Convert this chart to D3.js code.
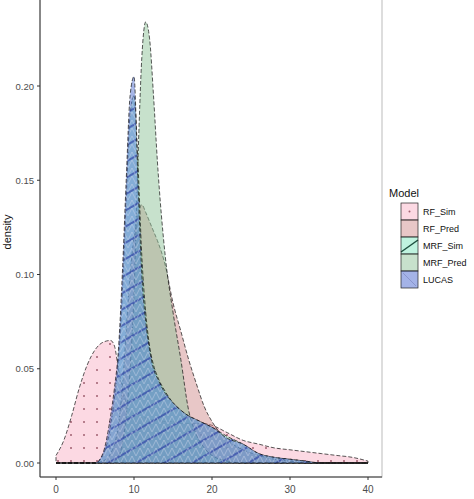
<!DOCTYPE html>
<html><head><meta charset="utf-8">
<script src="https://cdn.jsdelivr.net/npm/d3@7"></script>
<style>body{margin:0;background:#fff}text{font-family:Arial,"Liberation Sans",sans-serif}</style>
</head><body><div id="vis"></div>
<script>
const width = 474, height = 499;
const models = ["RF_Sim", "RF_Pred", "MRF_Sim", "MRF_Pred", "LUCAS"];
const xs = [0,1,2,3,4,5,6,7,7.5,8,8.5,9,9.5,10,10.5,11,11.5,12,12.5,13,14,15,16,17,18,19,20,22,24,26,28,30,32,34,36,38,40];
const rfSim   = [0.004,0.012,0.025,0.04,0.052,0.06,0.064,0.065,0.062,0.05,0.04,0.032,0.028,0.026,0.025,0.024,0.024,0.023,0.023,0.023,0.022,0.022,0.021,0.021,0.021,0.021,0.02,0.016,0.012,0.01,0.008,0.007,0.006,0.005,0.004,0.003,0.001];
const rfPred  = [0,0,0,0,0,0,0.001,0.005,0.01,0.02,0.04,0.07,0.1,0.12,0.132,0.137,0.133,0.128,0.123,0.118,0.105,0.085,0.07,0.055,0.042,0.03,0.022,0.012,0.007,0.004,0.002,0.001,0,0,0,0,0];
const mrfSim  = [0,0,0,0,0,0,0.004,0.02,0.035,0.055,0.09,0.14,0.185,0.195,0.16,0.11,0.08,0.062,0.052,0.046,0.038,0.032,0.028,0.025,0.023,0.021,0.019,0.014,0.01,0.005,0.003,0.002,0.001,0,0,0,0];
const mrfPred = [0,0,0,0,0,0,0,0,0.001,0.003,0.01,0.025,0.05,0.09,0.16,0.215,0.234,0.225,0.195,0.16,0.11,0.08,0.055,0.028,0.015,0.008,0.004,0.001,0,0,0,0,0,0,0,0,0];
const lucas   = [0,0,0,0,0,0,0.005,0.025,0.04,0.06,0.1,0.15,0.195,0.205,0.15,0.1,0.075,0.06,0.05,0.045,0.037,0.032,0.028,0.025,0.023,0.021,0.019,0.013,0.01,0.005,0.003,0.002,0.001,0,0,0,0];
const xTicks = [0, 10, 20, 30, 40];
const yTicks = [0, 0.05, 0.10, 0.15, 0.20];

const series = {RF_Sim: rfSim, RF_Pred: rfPred, MRF_Sim: mrfSim, MRF_Pred: mrfPred, LUCAS: lucas};
const fills = {RF_Sim: "#f9b3c8", RF_Pred: "#d28f8f", MRF_Sim: "#7fe8c0", MRF_Pred: "#8fc49a", LUCAS: "#4a68d0"};
const drawOrder = ["RF_Sim", "RF_Pred", "MRF_Pred", "MRF_Sim", "LUCAS"];

const svg = d3.select("#vis").append("svg").attr("width", width).attr("height", height);

// patterns
const defs = svg.append("defs");
const pDots = defs.append("pattern").attr("id", "p-RF_Sim").attr("patternUnits", "userSpaceOnUse").attr("width", 13).attr("height", 13);
pDots.append("circle").attr("cx", 6).attr("cy", 6).attr("r", 1).attr("fill", "#a06070");
const pLines = defs.append("pattern").attr("id", "p-MRF_Sim").attr("patternUnits", "userSpaceOnUse").attr("width", 14).attr("height", 14).attr("patternTransform", "rotate(-30)");
pLines.append("line").attr("x1", 0).attr("x2", 14).attr("y1", 7).attr("y2", 7).attr("stroke", "#1e2a80").attr("stroke-width", 2).attr("opacity", 0.7);
const pCross = defs.append("pattern").attr("id", "p-LUCAS").attr("patternUnits", "userSpaceOnUse").attr("width", 8).attr("height", 8);
pCross.append("path").attr("d", "M0,8L4,0L8,8").attr("fill", "none").attr("stroke", "#c8d4e8").attr("stroke-width", 0.7).attr("opacity", 0.7);

const x = d3.scaleLinear().domain([0, 40]).range([56, 368]);
const y = d3.scaleLinear().domain([0, 0.2]).range([463, 86]);

// panel border
svg.append("rect").attr("x", 40).attr("y", -1).attr("width", 342).attr("height", 478)
  .attr("fill", "none").attr("stroke", "#bbb");
svg.append("line").attr("x1", 40).attr("x2", 40).attr("y1", 0).attr("y2", 477).attr("stroke", "#333");
svg.append("line").attr("x1", 40).attr("x2", 382).attr("y1", 477).attr("y2", 477).attr("stroke", "#333");

const area = d3.area().x((d, i) => x(xs[i])).y0(y(0)).y1(d => y(d)).curve(d3.curveMonotoneX);

drawOrder.forEach(m => {
  const g = svg.append("g");
  g.append("path").attr("d", area(series[m])).attr("fill", fills[m]).attr("fill-opacity", 0.5);
  if (m === "RF_Sim" || m === "MRF_Sim" || m === "LUCAS")
    g.append("path").attr("d", area(series[m])).attr("fill", `url(#p-${m})`);
  g.append("path").attr("d", area(series[m])).attr("fill", "none")
    .attr("stroke", "#111").attr("stroke-width", 0.7).attr("stroke-dasharray", "4,2");
});

// axes
svg.append("g").selectAll("g").data(yTicks).join("g").each(function(d) {
  const g = d3.select(this);
  g.append("line").attr("x1", 37).attr("x2", 40).attr("y1", y(d)).attr("y2", y(d)).attr("stroke", "#333");
  g.append("text").attr("x", 34).attr("y", y(d) + 3.5).attr("text-anchor", "end")
    .attr("font-size", 9.5).attr("fill", "#4d4d4d").text(d3.format(".2f")(d));
});
svg.append("g").selectAll("g").data(xTicks).join("g").each(function(d) {
  const g = d3.select(this);
  g.append("line").attr("x1", x(d)).attr("x2", x(d)).attr("y1", 477).attr("y2", 480).attr("stroke", "#333");
  g.append("text").attr("x", x(d)).attr("y", 493).attr("text-anchor", "middle")
    .attr("font-size", 10).attr("fill", "#4d4d4d").text(d);
});

svg.append("text").attr("transform", "rotate(-90)").attr("x", -232).attr("y", 11)
  .attr("text-anchor", "middle").attr("font-size", 11).attr("fill", "#111").text("density");

// legend
const lg = svg.append("g").attr("transform", "translate(389,0)");
lg.append("text").attr("x", 0).attr("y", 197).attr("font-size", 11).attr("fill", "#111").text("Model");
models.forEach((m, i) => {
  const yy = 203 + i * 17;
  lg.append("rect").attr("x", 12).attr("y", yy).attr("width", 17).attr("height", 17)
    .attr("fill", fills[m]).attr("fill-opacity", 0.5);
  if (m === "RF_Sim") lg.append("circle").attr("cx", 20.5).attr("cy", yy + 8.5).attr("r", 1).attr("fill", "#a06070");
  if (m === "MRF_Sim") lg.append("line").attr("x1", 12).attr("x2", 29).attr("y1", yy + 15).attr("y2", yy + 3).attr("stroke", "#1e5040").attr("stroke-width", 1.5);
  if (m === "LUCAS") lg.append("line").attr("x1", 14).attr("x2", 27).attr("y1", yy + 2).attr("y2", yy + 15).attr("stroke", "#8088c0").attr("stroke-width", 0.7);
  lg.append("rect").attr("x", 12).attr("y", yy).attr("width", 17).attr("height", 17)
    .attr("fill", "none").attr("stroke", "#222").attr("stroke-width", 0.7);
  lg.append("text").attr("x", 34).attr("y", yy + 12).attr("font-size", 9).attr("fill", "#111").text(m);
});
</script></body></html>
